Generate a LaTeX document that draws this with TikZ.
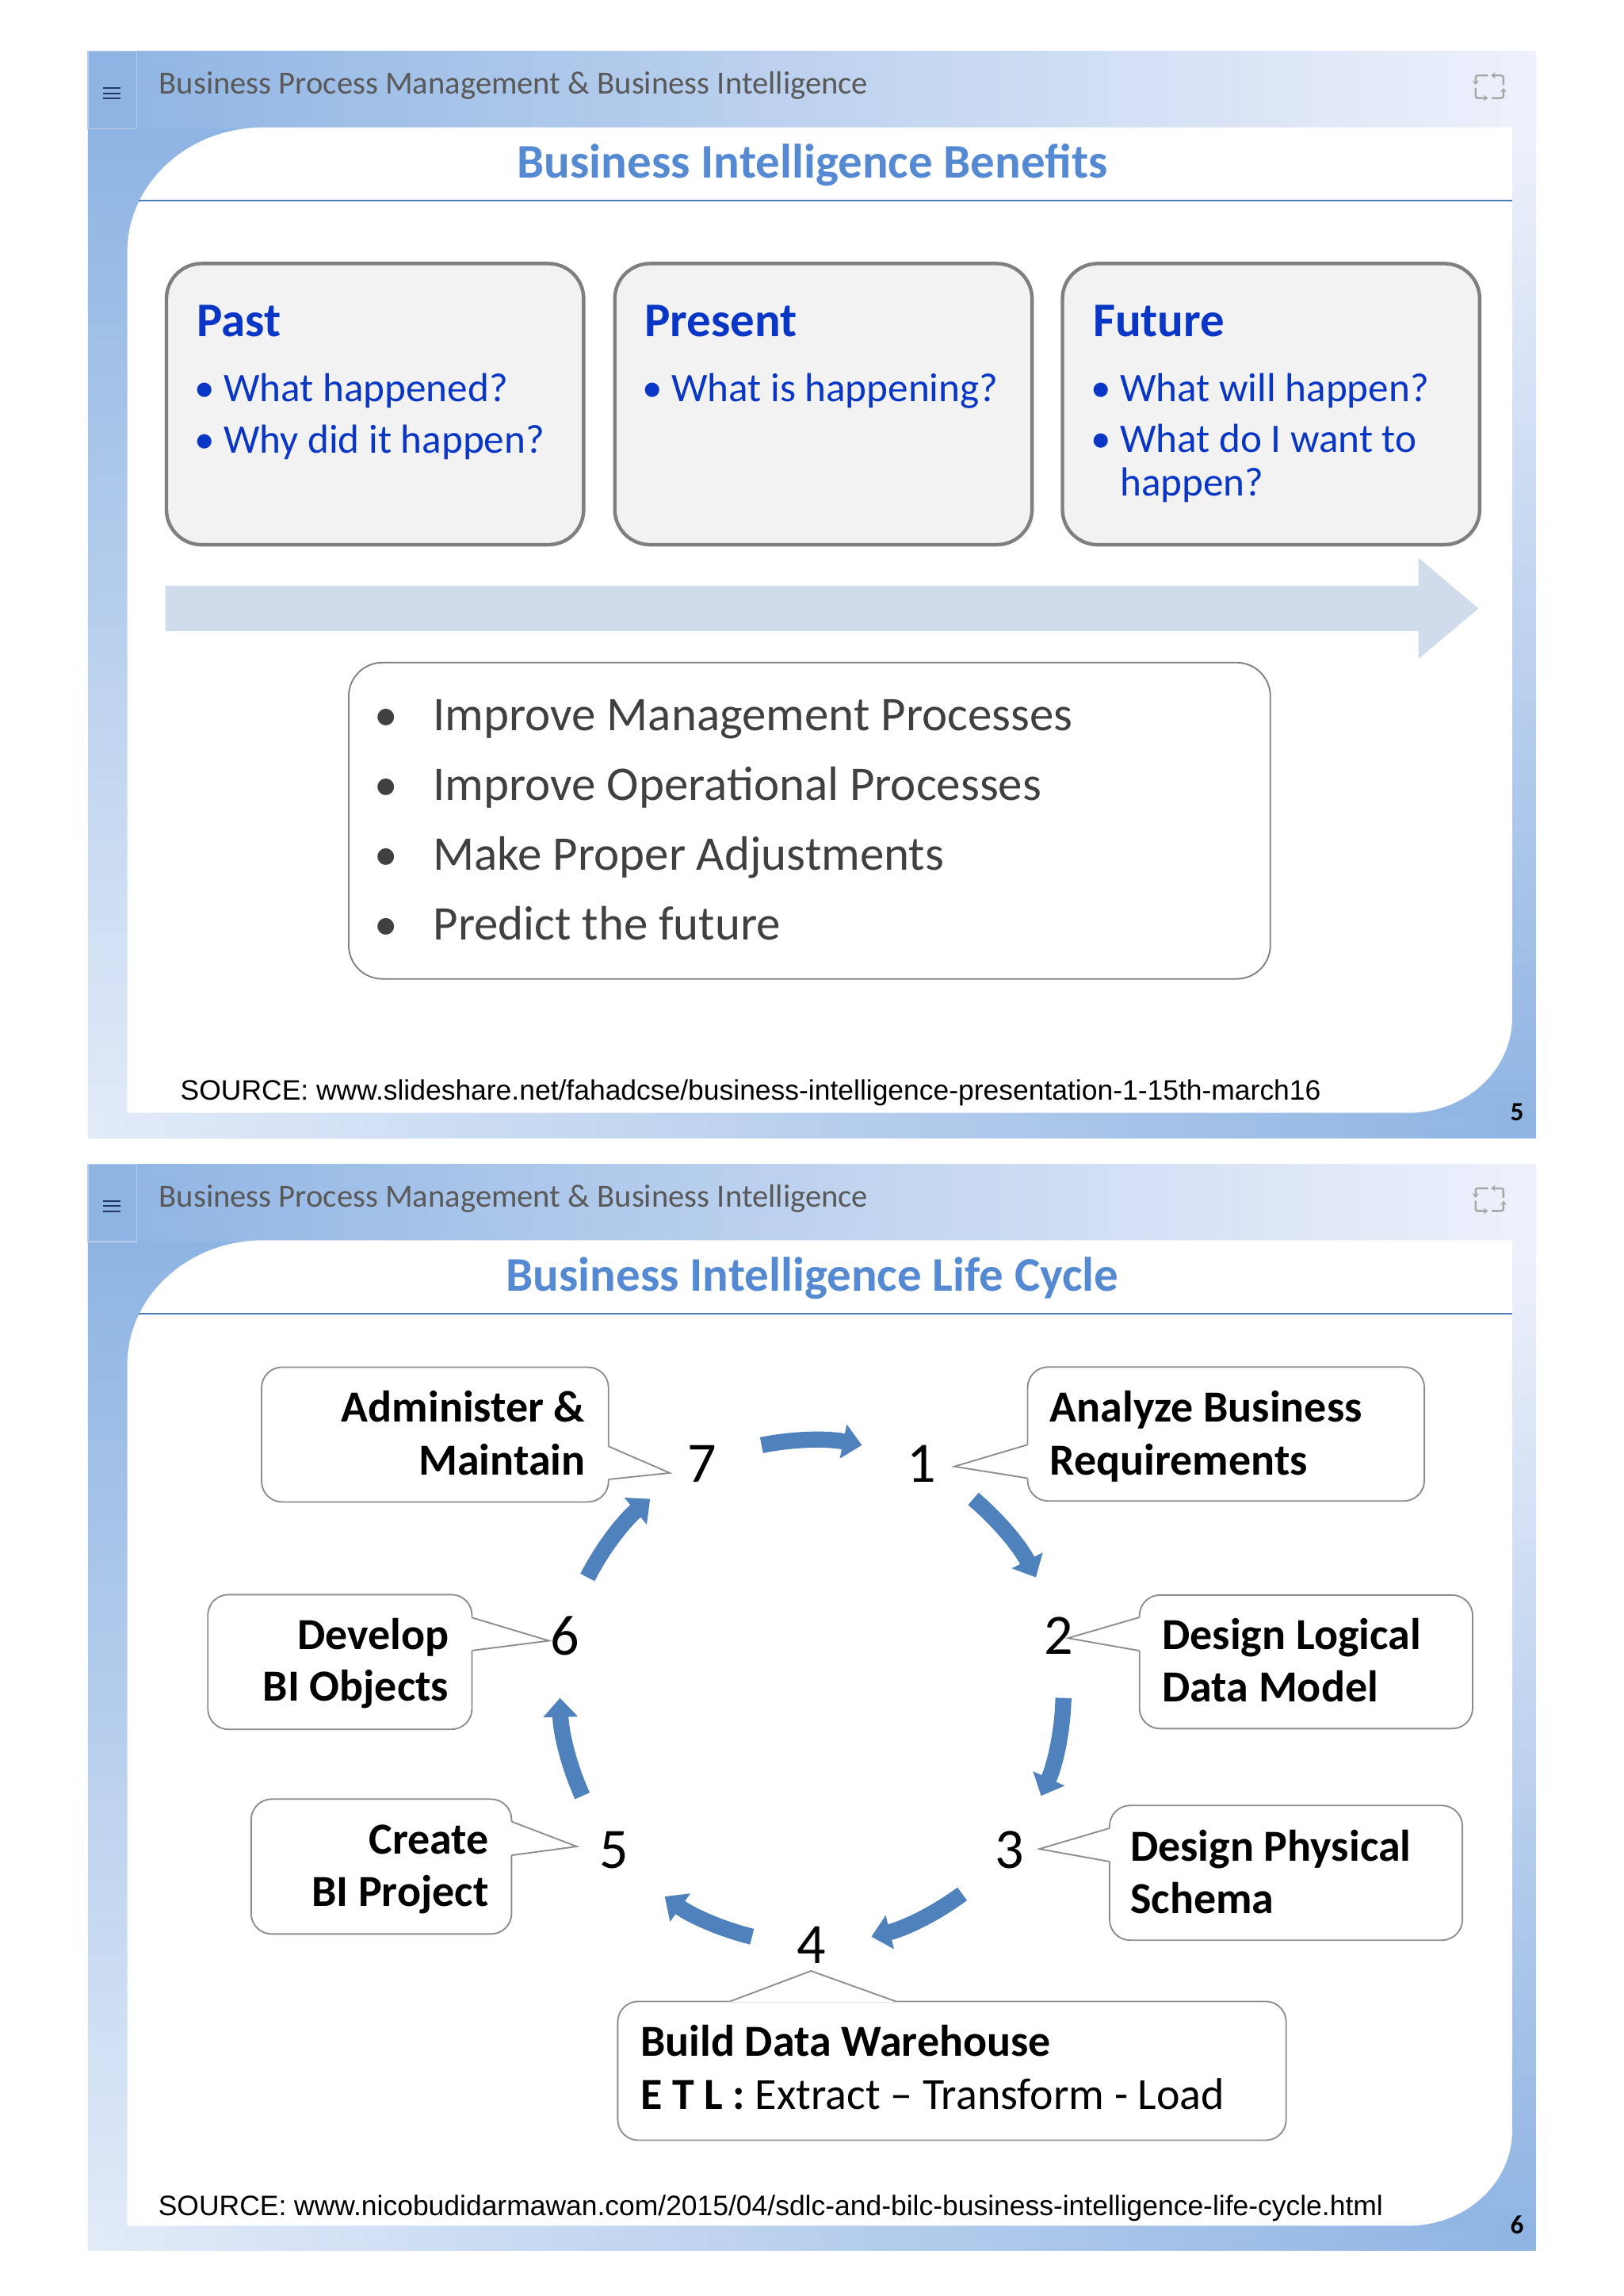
\documentclass[tikz,border=0pt]{standalone}
\usepackage{fontspec}
\setmainfont{Carlito}
\newfontfamily\arialfont{Liberation Sans}
\usetikzlibrary{arrows.meta,calc}
\definecolor{frameblue}{HTML}{8EB4E3}
\definecolor{framelight}{HTML}{EEF1FB}
\definecolor{leftlow}{HTML}{E2EBF8}
\definecolor{sideedge}{HTML}{B9CCEA}
\definecolor{navy}{HTML}{1F3864}
\definecolor{titleblue}{HTML}{558AD2}
\definecolor{ruleblue}{HTML}{4A7EBB}
\definecolor{hdrgray}{HTML}{595959}
\definecolor{deepblue}{HTML}{0A36C6}
\definecolor{boxfill}{HTML}{F2F2F2}
\definecolor{boxedge}{HTML}{7F7F7F}
\definecolor{palearrow}{HTML}{D0DCEB}
\definecolor{txtgray}{HTML}{404040}
\definecolor{callgray}{HTML}{8C8C8C}
\definecolor{cycblue}{HTML}{4F81BD}
\definecolor{icongray}{HTML}{A6A6A6}

\newcommand{\fsz}[2]{\fontsize{#1}{#2}\selectfont}

\tikzset{
  hdrtext/.style={anchor=base west, inner sep=0pt, text=hdrgray, font=\fsz{22}{26}},
  slidetitle/.style={anchor=base, inner sep=0pt, text=titleblue, font=\bfseries\fsz{33}{39}},
  pagenum/.style={inner sep=0pt, font=\bfseries\fsz{18}{21}},
  srcnote/.style={anchor=base west, inner sep=0pt, font=\arialfont\fsz{19.2}{23}},
  timebox/.style={draw=boxedge, line width=2.4pt, fill=boxfill, rounded corners=24pt, inner sep=0pt, minimum width=285pt, minimum height=192pt},
  boxhead/.style={anchor=base west, inner sep=0pt, text=deepblue, font=\bfseries\fsz{33}{38}},
  boxitem/.style={anchor=base west, inner sep=0pt, text=deepblue, font=\fsz{27.7}{33}},
  boxdot/.style={anchor=base, inner sep=0pt, text=deepblue, font=\fsz{27.7}{33}},
  benefitbox/.style={draw=boxedge, line width=1pt, fill=white, rounded corners=23pt, inner sep=0pt},
  benefit/.style={anchor=base west, inner sep=0pt, text=txtgray, font=\fsz{33}{39}},
  benefitdot/.style={anchor=base, inner sep=0pt, text=txtgray, font=\fsz{32}{38}},
  callbox/.style={draw=callgray, line width=1pt, fill=white, rounded corners=14pt, inner sep=0pt},
  calltextL/.style={anchor=base west, inner sep=0pt, font=\bfseries\fsz{30.3}{36}},
  calltextR/.style={anchor=base east, inner sep=0pt, font=\bfseries\fsz{30.3}{36}},
  cycnum/.style={inner sep=0pt, font=\fsz{39}{46}},
  cycarrow/.style={draw=cycblue, line width=11pt, -{Triangle[width=23pt,length=13pt]}},
  pointer/.style={draw=callgray, line width=1pt, line join=miter},
  iconline/.style={draw=icongray, line width=1.3pt, rounded corners=1.5pt, -{Stealth[length=3pt,width=4.5pt]}},
}

\newcommand{\calloutptr}[3]{%
  \fill[white] ($(#1)!-1.5pt!(#2)$) -- (#2) -- ($(#3)!-1.5pt!(#2)$) -- cycle;
  \draw[pointer] (#1) -- (#2) -- (#3);
}

\newcommand{\slideframe}[2]{%
  \shade[left color=frameblue, right color=framelight] (60,-35) rectangle (1049,-88);
  \shade[top color=frameblue, bottom color=leftlow] (60,-88) rectangle (200,-777);
  \shade[top color=framelight, bottom color=frameblue] (900,-88) rectangle (1049,-777);
  \shade[left color=leftlow, right color=frameblue] (60,-760) rectangle (1049,-777);
  \fill[white] (180,-87) -- (1033,-87) -- (1033,-695)
     arc[start angle=0, end angle=-90, x radius=71, y radius=65]
     -- (87,-760) -- (87,-172)
     arc[start angle=180, end angle=90, x radius=93, y radius=85] -- cycle;
  \draw[sideedge, fill=frameblue, line width=0.8pt] (60,-35) rectangle (93.5,-88);
  \foreach \yy in {60.1,63.7,67.3} \draw[navy, line width=1.2pt] (70.5,-\yy) -- (82.5,-\yy);
  \draw[ruleblue, line width=1.3pt] (95,-137) -- (1033,-137);
  \node[hdrtext] (#1hdr) at (108.5,-64.1) {Business Process Management \& Business Intelligence};
  \draw[iconline] (1019,-67) -- (1027,-67) -- (1027,-60);
  \draw[iconline] (1027,-58) -- (1027,-51.5) -- (1018.5,-51.5);
  \draw[iconline] (1016.5,-51.5) -- (1008,-51.5) -- (1008,-58);
  \draw[iconline] (1008,-60) -- (1008,-67) -- (1016.5,-67);
  \node[pagenum] (#1num) at (1036.3,-759.3) {#2};
}

\begin{document}
\begin{tikzpicture}[x=1pt,y=1pt]
\useasboundingbox (0,0) rectangle (1109,-1568);
\fill[white] (0,0) rectangle (1109,-1568);

% ---------------- slide 5 ----------------
\slideframe{sA}{5}
\node[slidetitle] (t1) at (555,-121.8) {Business Intelligence Benefits};

\node[timebox] (past) at (256.2,-276) {};
\node[timebox] (present) at (562.5,-276) {};
\node[timebox] (future) at (868.3,-276) {};

\node[boxhead] (pasth) at (134.4,-229.6) {Past};
\node[boxdot] (pastd1) at (139.7,-274.4) {•};
\node[boxitem] (pastt1) at (152.6,-274.4) {What happened?};
\node[boxdot] (pastd2) at (139.7,-309.2) {•};
\node[boxitem] (pastt2) at (152.6,-309.2) {Why did it happen?};

\node[boxhead] (presh) at (440,-229.6) {Present};
\node[boxdot] (presd1) at (445.5,-274.4) {•};
\node[boxitem] (prest1) at (458.5,-274.4) {What is happening?};

\node[boxhead] (futh) at (746.5,-229.6) {Future};
\node[boxdot] (futd1) at (752,-274.4) {•};
\node[boxitem] (futt1) at (765,-274.4) {What will happen?};
\node[boxdot] (futd2) at (752,-308.7) {•};
\node[boxitem] (futt2) at (765,-308.7) {What do I want to};
\node[boxitem] (futt3) at (765,-338.4) {happen?};

\fill[palearrow] (113,-400) -- (969,-400) -- (969,-381) -- (1010,-415.5)
   -- (969,-450) -- (969,-431) -- (113,-431) -- cycle;

\node[benefitbox, minimum width=629.6pt, minimum height=216pt] (benefits) at (553,-560.5) {};
\node[benefitdot] (bd1) at (264,-499) {•};
\node[benefit] (bt1) at (295.7,-499) {Improve Management Processes};
\node[benefitdot] (bd2) at (264,-546.7) {•};
\node[benefit] (bt2) at (295.7,-546.7) {Improve Operational Processes};
\node[benefitdot] (bd3) at (264,-594.4) {•};
\node[benefit] (bt3) at (295.7,-594.4) {Make Proper Adjustments};
\node[benefitdot] (bd4) at (264,-642.1) {•};
\node[benefit] (bt4) at (295.7,-642.1) {Predict the future};

\node[srcnote] (src1) at (123.1,-751) {SOURCE: www.slideshare.net/fahadcse/business-intelligence-presentation-1-15th-march16};

% ---------------- slide 6 ----------------
\begin{scope}[yshift=-760pt]
\slideframe{sB}{6}
\end{scope}
\node[slidetitle] (t2) at (555,-881.8) {Business Intelligence Life Cycle};

\coordinate (cc) at (554.5,-1155.5);
\node[cycnum] (n4) at ($(cc)+(-90:173)$) {4};
\node[cycnum] (n3) at ($(cc)+(-38.571:173)$) {3};
\node[cycnum] (n2) at ($(cc)+(12.857:173)$) {2};
\node[cycnum] (n1) at ($(cc)+(64.286:173)$) {1};
\node[cycnum] (n7) at ($(cc)+(115.714:173)$) {7};
\node[cycnum] (n6) at ($(cc)+(167.143:173)$) {6};
\node[cycnum] (n5) at ($(cc)+(218.571:173)$) {5};

\coordinate (a71) at ($(cc)+(101.5:172)$);
\coordinate (a12) at ($(cc)+(50.07:172)$);
\coordinate (a23) at ($(cc)+(-1.36:172)$);
\coordinate (a34) at ($(cc)+(-53.29:172)$);
\coordinate (a45) at ($(cc)+(-103.71:172)$);
\coordinate (a56) at ($(cc)+(204.36:172)$);
\coordinate (a67) at ($(cc)+(152.93:172)$);
\draw[cycarrow] (a71) arc[start angle=101.5, end angle=78.5, radius=172];
\draw[cycarrow] (a12) arc[start angle=50.07, end angle=27.07, radius=172];
\draw[cycarrow] (a23) arc[start angle=-1.36, end angle=-24.36, radius=172];
\draw[cycarrow] (a34) arc[start angle=-53.29, end angle=-76.29, radius=172];
\draw[cycarrow] (a45) arc[start angle=-103.71, end angle=-125.71, radius=172];
\draw[cycarrow] (a56) arc[start angle=204.36, end angle=181.36, radius=172];
\draw[cycarrow] (a67) arc[start angle=152.93, end angle=129.93, radius=172];

% callout boxes
\node[callbox, minimum width=237pt, minimum height=92pt] (b7) at (297.2,-979.7) {};
\node[callbox, minimum width=271pt, minimum height=91.5pt] (b1) at (837.5,-979.3) {};
\node[callbox, minimum width=227.6pt, minimum height=91.2pt] (b2) at (892.2,-1134.9) {};
\node[callbox, minimum width=241pt, minimum height=92pt] (b3) at (878.5,-1279) {};
\node[callbox, minimum width=456.6pt, minimum height=94.8pt] (b4) at (650.3,-1414.2) {};
\node[callbox, minimum width=177.9pt, minimum height=92.1pt] (b5) at (260.5,-1274.7) {};
\node[callbox, minimum width=180.4pt, minimum height=92pt] (b6) at (232.2,-1135) {};

\coordinate (p7a) at (415.6,-987.7); \coordinate (p7t) at (457.6,-1005.9); \coordinate (p7b) at (415.6,-1010.3);
\coordinate (p1a) at (702,-986.6);   \coordinate (p1t) at (651.9,-1001.5); \coordinate (p1b) at (702,-1009.5);
\coordinate (p2a) at (778.4,-1104.5); \coordinate (p2t) at (729.6,-1118.7); \coordinate (p2b) at (778.4,-1127.3);
\coordinate (p3a) at (758,-1248.5);  \coordinate (p3t) at (710,-1262.7);   \coordinate (p3b) at (758,-1271.3);
\coordinate (p4a) at (498.7,-1366.8); \coordinate (p4t) at (554,-1346);    \coordinate (p4b) at (612,-1366.8);
\coordinate (p5a) at (349.5,-1244);  \coordinate (p5t) at (394,-1261);     \coordinate (p5b) at (349.5,-1267);
\coordinate (p6a) at (322.4,-1104.7); \coordinate (p6t) at (375,-1120.5);  \coordinate (p6b) at (322.4,-1127.2);
\calloutptr{p7a}{p7t}{p7b}
\calloutptr{p1a}{p1t}{p1b}
\calloutptr{p2a}{p2t}{p2b}
\calloutptr{p3a}{p3t}{p3b}
\calloutptr{p4a}{p4t}{p4b}
\calloutptr{p5a}{p5t}{p5b}
\calloutptr{p6a}{p6t}{p6b}

\node[calltextR] (b7t1) at (400,-971.1) {Administer \&};
\node[calltextR] (b7t2) at (400,-1007.2) {Maintain};
\node[calltextL] (b1t1) at (717.1,-971.1) {Analyze Business};
\node[calltextL] (b1t2) at (717.1,-1007.2) {Requirements};
\node[calltextL] (b2t1) at (793.8,-1126.3) {Design Logical};
\node[calltextL] (b2t2) at (793.8,-1162.4) {Data Model};
\node[calltextL] (b3t1) at (772,-1271) {Design Physical};
\node[calltextL] (b3t2) at (772,-1307) {Schema};
\node[calltextL] (b4t1) at (437.4,-1404.3) {Build Data Warehouse};
\node[calltextL] (b4t2) at (437.4,-1440.4) {E T L : \mdseries Extract – Transform - Load};
\node[calltextR] (b5t1) at (334,-1266.2) {Create};
\node[calltextR] (b5t2) at (334,-1301.8) {BI Project};
\node[calltextR] (b6t1) at (306.8,-1126.3) {Develop};
\node[calltextR] (b6t2) at (306.8,-1161.5) {BI Objects};

\node[srcnote] (src2) at (108,-1513) {SOURCE: www.nicobudidarmawan.com/2015/04/sdlc-and-bilc-business-intelligence-life-cycle.html};
\end{tikzpicture}
\end{document}
